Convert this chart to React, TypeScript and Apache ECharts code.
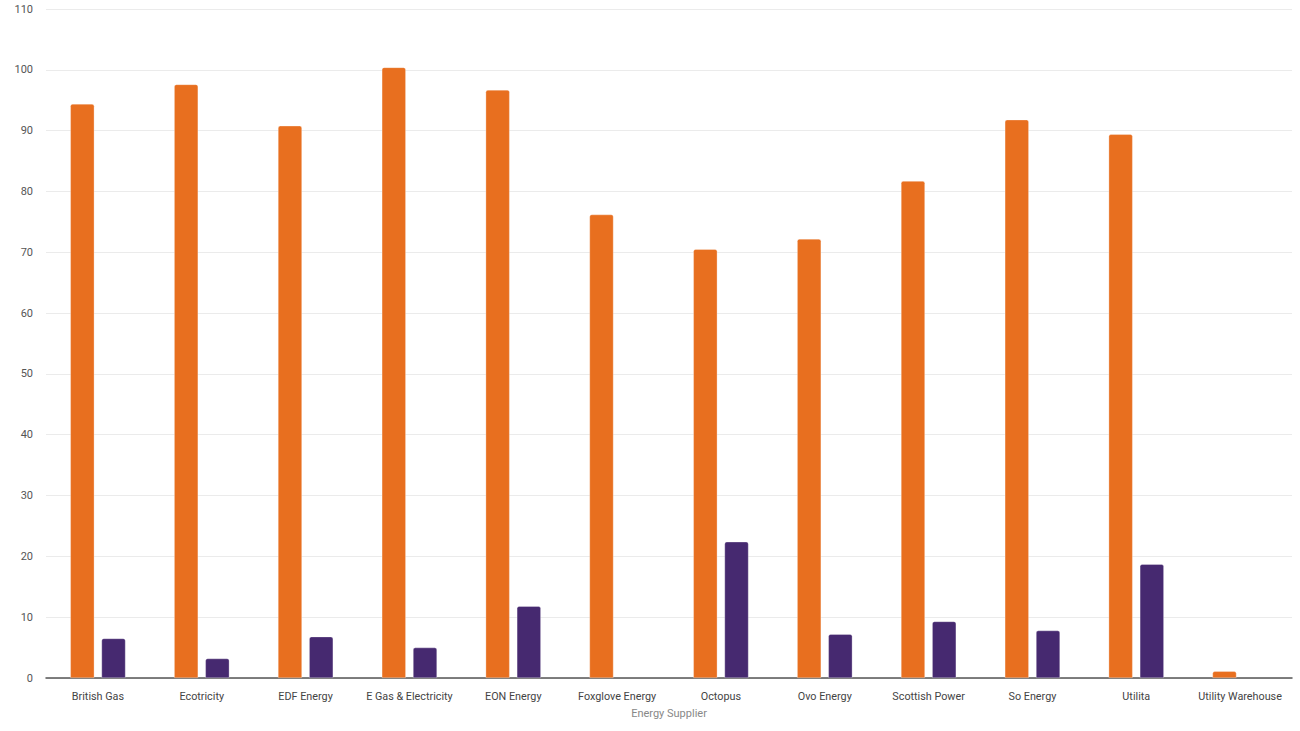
import { useEffect, useRef } from 'react';
import * as echarts from 'echarts';

const suppliers = [
  'British Gas',
  'Ecotricity',
  'EDF Energy',
  'E Gas & Electricity',
  'EON Energy',
  'Foxglove Energy',
  'Octopus',
  'Ovo Energy',
  'Scottish Power',
  'So Energy',
  'Utilita',
  'Utility Warehouse',
];

const orangeValues = [94.4, 97.6, 90.8, 100.4, 96.7, 76.2, 70.5, 72.2, 81.7, 91.8, 89.4, 1.1];
const purpleValues = [6.5, 3.2, 6.8, 5.0, 11.8, null, 22.4, 7.2, 9.3, 7.8, 18.7, null];

export default function App() {
  const chartRef = useRef<HTMLDivElement>(null);

  useEffect(() => {
    if (!chartRef.current) return;
    const chart = echarts.init(chartRef.current, undefined, { renderer: 'svg' });

    const barStyle = (color: string) => ({
      color,
      borderRadius: [2, 2, 0, 0],
      borderColor: 'rgba(255,255,255,0.6)',
      borderWidth: 0.5,
    });

    chart.setOption({
      animation: false,
      backgroundColor: '#fff',
      textStyle: { fontFamily: 'Roboto' },
      grid: { left: 46, right: 8, top: 9, bottom: 53 },
      xAxis: {
        type: 'category',
        data: suppliers,
        name: 'Energy Supplier',
        nameLocation: 'middle',
        nameGap: 30,
        nameTextStyle: { color: '#888', fontSize: 11 },
        axisLine: { lineStyle: { color: '#555', width: 1.5 } },
        axisTick: { show: false },
        axisLabel: { color: '#444', fontSize: 10.8, margin: 13, interval: 0 },
      },
      yAxis: {
        type: 'value',
        min: 0,
        max: 110,
        interval: 10,
        axisLine: { show: false },
        axisTick: { show: false },
        axisLabel: { color: '#555', fontSize: 11, margin: 13 },
        splitLine: { lineStyle: { color: '#ebebeb' } },
      },
      series: [
        {
          type: 'bar',
          data: orangeValues,
          barWidth: 24,
          barGap: '30%',
          itemStyle: barStyle('#e86f1f'),
        },
        {
          type: 'bar',
          data: purpleValues,
          barWidth: 24,
          itemStyle: barStyle('#462970'),
        },
      ],
    });

    return () => chart.dispose();
  }, []);

  return (
    <div
      ref={chartRef}
      style={{ position: 'fixed', left: 0, top: 0, width: 1300, height: 731 }}
    />
  );
}
